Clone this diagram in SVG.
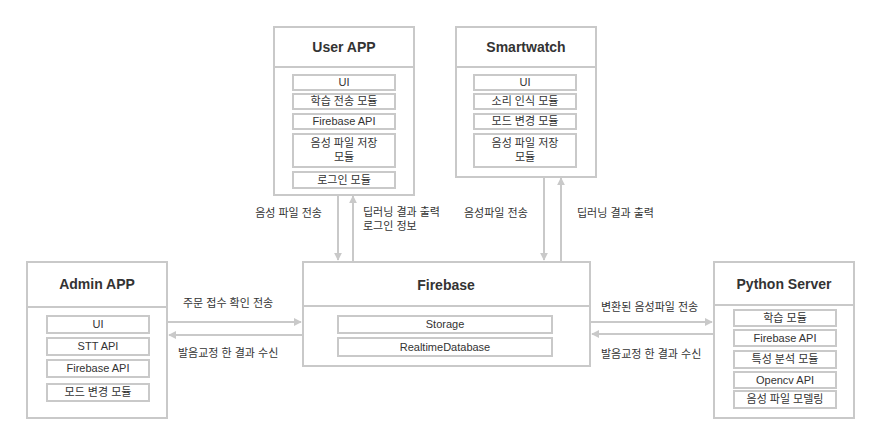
<svg xmlns="http://www.w3.org/2000/svg" width="884" height="438" viewBox="0 0 884 438">
<style>
.b{fill:#fff;stroke:#c9c9c9;stroke-width:2}
.l{stroke:#c9c9c9;stroke-width:2;fill:none}
.t{font-family:"Liberation Sans","Noto Sans CJK KR",sans-serif;font-weight:bold;font-size:14px;fill:#333;text-anchor:middle}
.s{font-family:"Liberation Sans","Noto Sans CJK KR",sans-serif;font-size:11px;fill:#333;text-anchor:middle}
.lb{font-family:"Liberation Sans","Noto Sans CJK KR",sans-serif;font-size:11px;fill:#333}
</style>
<defs><marker id="a" viewBox="0 0 10 10" refX="9" refY="5" markerWidth="4" markerHeight="4" orient="auto"><path d="M0,0L10,5L0,10z" fill="#c9c9c9"/></marker></defs>
<rect width="884" height="438" fill="#fff"/>
<g id="user">
<rect class="b" x="274" y="27" width="140" height="168"/><line class="l" x1="274" y1="67" x2="414" y2="67"/>
<text class="t" x="344" y="52">User APP</text>
<rect class="b" x="293" y="75" width="102" height="15"/><text class="s" x="344" y="86">UI</text>
<rect class="b" x="293" y="94" width="102" height="15"/><text class="s" x="344" y="105">학습 전송 모듈</text>
<rect class="b" x="293" y="114" width="102" height="15"/><text class="s" x="344" y="125">Firebase API</text>
<rect class="b" x="293" y="134" width="102" height="33"/><text class="s" x="344" y="147">음성 파일 저장</text><text class="s" x="344" y="161">모듈</text>
<rect class="b" x="293" y="172" width="102" height="16"/><text class="s" x="344" y="184">로그인 모듈</text>
</g>
<g id="smartwatch">
<rect class="b" x="456" y="27" width="140" height="150"/><line class="l" x1="456" y1="67" x2="596" y2="67"/>
<text class="t" x="526" y="52">Smartwatch</text>
<rect class="b" x="474" y="75" width="102" height="15"/><text class="s" x="525" y="86">UI</text>
<rect class="b" x="474" y="94" width="102" height="15"/><text class="s" x="525" y="105">소리 인식 모듈</text>
<rect class="b" x="474" y="114" width="102" height="15"/><text class="s" x="525" y="125">모드 변경 모듈</text>
<rect class="b" x="474" y="134" width="102" height="33"/><text class="s" x="525" y="147">음성 파일 저장</text><text class="s" x="525" y="161">모듈</text>
</g>
<g id="firebase">
<rect class="b" x="303" y="262" width="287" height="104"/><line class="l" x1="303" y1="306" x2="590" y2="306"/>
<text class="t" x="446" y="290">Firebase</text>
<rect class="b" x="338" y="316" width="214" height="17"/><text class="s" x="445" y="328">Storage</text>
<rect class="b" x="338" y="338" width="214" height="18"/><text class="s" x="445" y="351">RealtimeDatabase</text>
</g>
<g id="admin">
<rect class="b" x="27" y="262" width="140" height="156"/><line class="l" x1="27" y1="307" x2="167" y2="307"/>
<text class="t" x="97" y="289">Admin APP</text>
<rect class="b" x="47" y="316" width="102" height="17"/><text class="s" x="98" y="328">UI</text>
<rect class="b" x="47" y="338" width="102" height="17"/><text class="s" x="98" y="350">STT API</text>
<rect class="b" x="47" y="360" width="102" height="17"/><text class="s" x="98" y="372">Firebase API</text>
<rect class="b" x="47" y="384" width="102" height="17"/><text class="s" x="98" y="396">모드 변경 모듈</text>
</g>
<g id="python">
<rect class="b" x="714" y="262" width="140" height="156"/><line class="l" x1="714" y1="305" x2="854" y2="305"/>
<text class="t" x="784" y="289">Python Server</text>
<rect class="b" x="734" y="310" width="102" height="16"/><text class="s" x="785" y="322">학습 모듈</text>
<rect class="b" x="734" y="330" width="102" height="16"/><text class="s" x="785" y="342">Firebase API</text>
<rect class="b" x="734" y="351" width="102" height="17"/><text class="s" x="785" y="363">특성 분석 모듈</text>
<rect class="b" x="734" y="372" width="102" height="16"/><text class="s" x="785" y="384">Opencv API</text>
<rect class="b" x="734" y="391" width="102" height="17"/><text class="s" x="785" y="403">음성 파일 모델링</text>
</g>
<g id="connectors">
<line class="l" x1="338" y1="195" x2="338" y2="260" marker-end="url(#a)"/>
<line class="l" x1="353" y1="261" x2="353" y2="196" marker-end="url(#a)"/>
<line class="l" x1="544" y1="177" x2="544" y2="260" marker-end="url(#a)"/>
<line class="l" x1="561" y1="261" x2="561" y2="178" marker-end="url(#a)"/>
<line class="l" x1="167" y1="322" x2="301" y2="322" marker-end="url(#a)"/>
<line class="l" x1="303" y1="335" x2="169" y2="335" marker-end="url(#a)"/>
<line class="l" x1="590" y1="322" x2="712" y2="322" marker-end="url(#a)"/>
<line class="l" x1="714" y1="334" x2="592" y2="334" marker-end="url(#a)"/>
<text class="lb" x="322" y="217" text-anchor="end">음성 파일 전송</text>
<text class="lb" x="363" y="216">딥러닝 결과 출력</text>
<text class="lb" x="363" y="230">로그인 정보</text>
<text class="lb" x="464" y="217">음성파일 전송</text>
<text class="lb" x="577" y="217">딥러닝 결과 출력</text>
<text class="lb" x="183" y="307">주문 접수 확인 전송</text>
<text class="lb" x="178" y="357">발음교정 한 결과 수신</text>
<text class="lb" x="601" y="311">변환된 음성파일 전송</text>
<text class="lb" x="601" y="358">발음교정 한 결과 수신</text>
</g>
</svg>
